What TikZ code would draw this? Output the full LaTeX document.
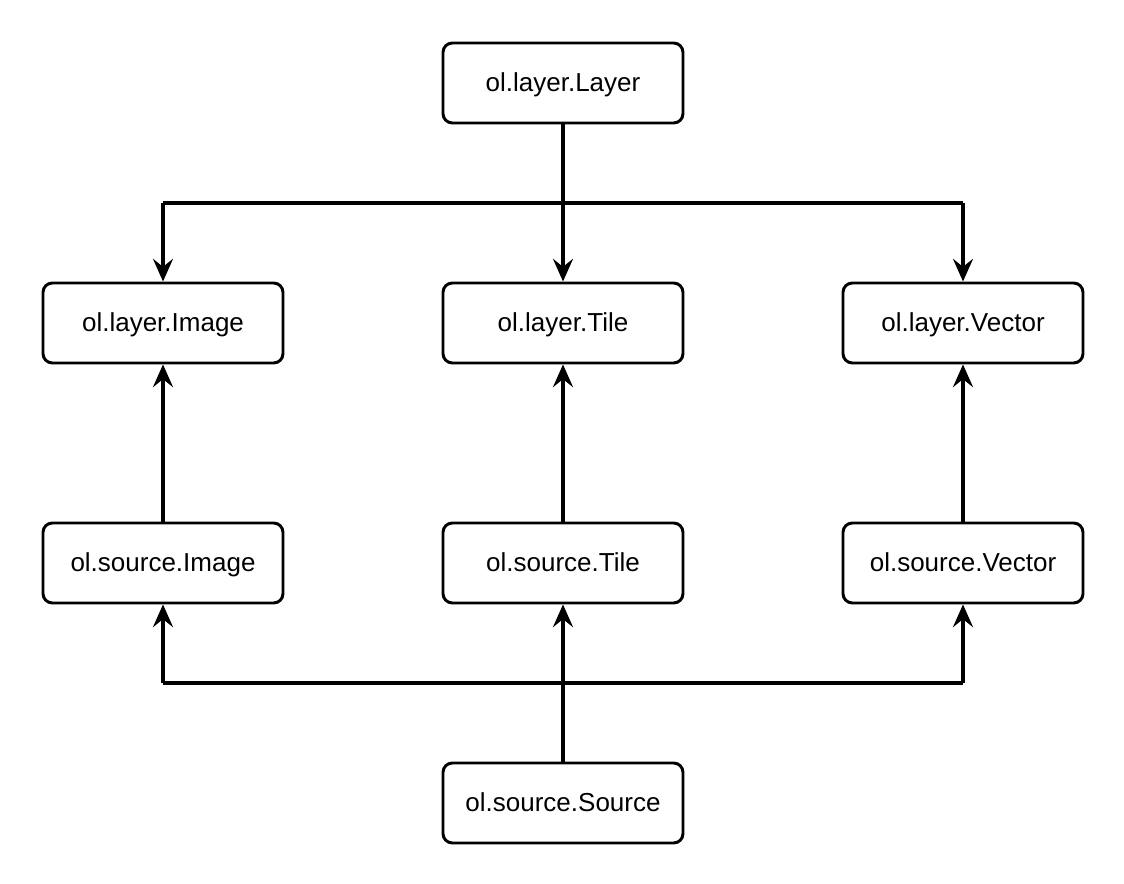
\documentclass[tikz,border=0pt]{standalone}
\usepackage{fontspec}
\setmainfont{Liberation Sans}
\usetikzlibrary{arrows.meta}
\begin{document}
\begin{tikzpicture}[x=0.75pt,y=-0.75pt,
  box/.style={draw,line width=2.2pt,rounded corners=7pt,minimum width=180pt,minimum height=60pt,inner sep=0pt,text height=14pt,text depth=1.5pt,font=\fontsize{19.5}{22}\selectfont},
  conn/.style={line width=2.6pt},
  arr/.style={conn,-{Stealth[length=17pt,width=15pt,inset=6pt]}}]
\useasboundingbox (0,0) rectangle (1124,884);
\node[box] (L) at (563,83) {ol.layer.Layer};
\node[box] (LI) at (163,323) {ol.layer.Image};
\node[box] (LT) at (563,323) {ol.layer.Tile};
\node[box] (LV) at (963,323) {ol.layer.Vector};
\node[box] (SI) at (163,563) {ol.source.Image};
\node[box] (ST) at (563,563) {ol.source.Tile};
\node[box] (SV) at (963,563) {ol.source.Vector};
\node[box] (S) at (563,803) {ol.source.Source};
\coordinate (b1) at (163,203); \coordinate (b2) at (963,203);
\coordinate (c1) at (163,683); \coordinate (c2) at (963,683);
\draw[arr] (L) -- (LT);
\draw[conn] (b1) -- (b2);
\draw[arr] (b1) -- (LI);
\draw[arr] (b2) -- (LV);
\draw[arr] (SI) -- (LI);
\draw[arr] (ST) -- (LT);
\draw[arr] (SV) -- (LV);
\draw[arr] (S) -- (ST);
\draw[conn] (c1) -- (c2);
\draw[arr] (c1) -- (SI);
\draw[arr] (c2) -- (SV);
\end{tikzpicture}
\end{document}
